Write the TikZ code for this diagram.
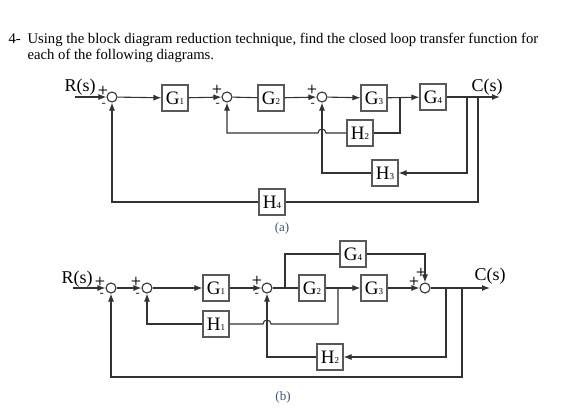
\documentclass[tikz,border=0pt]{standalone}
\usepackage{fontspec}
\setmainfont{Liberation Serif}
\usetikzlibrary{arrows.meta}
\definecolor{capblue}{RGB}{60,85,120}
\newcommand{\blk}[2]{#1{\fontsize{9}{9}\selectfont #2}}

\begin{document}
\begin{tikzpicture}[x=1pt,y=1pt,line width=1.1pt]
\tikzstyle{every node}+=[inner sep=0pt]
\tikzstyle{box}=[draw=black!65,fill=white,minimum size=26pt,font=\fontsize{19}{19}\selectfont]
\tikzstyle{sum}=[draw=black!80,circle,minimum size=10pt]
\tikzstyle{sgn}=[font=\sffamily\bfseries\fontsize{12}{12}\selectfont]
\tikzstyle{arr}=[-{Latex[length=8pt,width=6pt]}]
\tikzstyle{sig}=[anchor=base,font=\fontsize{18}{18}\selectfont]
\useasboundingbox (0,0) rectangle (580,-415);
% question
\node[anchor=base west,font=\fontsize{14.7}{16}\selectfont] (num) at (8,-43) {4-};
\node[anchor=base west,font=\fontsize{14.7}{16}\selectfont] (q1) at (27,-43) {Using the block diagram reduction technique, find the closed loop transfer function for};
\node[anchor=base west,font=\fontsize{14.7}{16}\selectfont] (q2) at (27,-59) {each of the following diagrams.};
% diagram (a)
\node[sig] (ra) at (80,-91) {R(s)};
\node[sig] (ca) at (487,-91) {C(s)};
\node[sum] (sa1) at (112,-97) {};
\node[sum] (sa2) at (227,-97) {};
\node[sum] (sa3) at (322,-97) {};
\node[box] (ga1) at (175,-98) {\blk{G}{1}};
\node[box] (ga2) at (271,-98) {\blk{G}{2}};
\node[box] (ga3) at (374,-98) {\blk{G}{3}};
\node[box] (ga4) at (433,-97) {\blk{G}{4}};
\node[box] (ha2) at (360,-133) {\blk{H}{2}};
\node[box] (ha3) at (385,-173) {\blk{H}{3}};
\node[box] (ha4) at (272,-202) {\blk{H}{4}};
\node[sgn] (pa1) at (103,-90) {+};
\node[sgn] (ma1) at (104,-105) {-};
\node[sgn] (pa2) at (217,-89) {+};
\node[sgn] (ma2) at (218,-105) {-};
\node[sgn] (pa3) at (312,-89) {+};
\node[sgn] (ma3) at (313,-105) {-};
\coordinate (ina) at (75,-97);
\coordinate (outa) at (500,-97);
\coordinate (ba1) at (400,-97);
\coordinate (ba2) at (467,-97);
\coordinate (ba3) at (478,-97);
\coordinate (ba4) at (478,-202);
\begin{scope}[draw=black!80]
\draw[arr] (ina) -- (sa1);
\draw[arr] (sa1) -- (ga1);
\draw[arr] (ga1) -- (sa2);
\draw (sa2) -- (ga2);
\draw[arr] (ga2) -- (sa3);
\draw[arr] (sa3) -- (ga3);
\draw[arr] (ga3) -- (ga4);
\draw[arr] (ga4) -- (outa);
\draw (ba1) |- (ha2);
\draw[arr] (ha2) -- ([xshift=4pt]sa3 |- ha2) arc (0:180:4) -- (sa2 |- ha2) -- (sa2);
\draw[arr] (ba2) |- (ha3);
\draw[arr] (ha3) -| (sa3);
\draw (ba3) -- (ba4) -- (ha4);
\draw[arr] (ha4) -| (sa1);
\end{scope}
\node[text=capblue,font=\fontsize{13}{13}\selectfont] (capa) at (282,-228) {(a)};
% diagram (b)
\node[sig] (rb) at (77,-283) {R(s)};
\node[sig] (cb) at (490,-280) {C(s)};
\node[sum] (sb1) at (111,-288) {};
\node[sum] (sb2) at (147,-288) {};
\node[sum] (sb3) at (267,-288) {};
\node[sum] (sb4) at (425,-288) {};
\node[box] (gb1) at (216,-288) {\blk{G}{1}};
\node[box] (gb2) at (312,-288) {\blk{G}{2}};
\node[box] (gb3) at (374,-288) {\blk{G}{3}};
\node[box] (gb4) at (353,-254) {\blk{G}{4}};
\node[box] (hb1) at (216,-324) {\blk{H}{1}};
\node[box] (hb2) at (330,-357) {\blk{H}{2}};
\node[sgn] (pb1) at (100,-281) {+};
\node[sgn] (mb1) at (102,-295) {-};
\node[sgn] (pb2) at (136,-281) {+};
\node[sgn] (mb2) at (138,-295) {-};
\node[sgn] (pb3) at (257,-280) {+};
\node[sgn] (mb3) at (257,-295) {-};
\node[sgn] (pb4) at (414,-281) {+};
\node[sgn] (qb4) at (421,-272) {+};
\coordinate (inb) at (73,-288);
\coordinate (outb) at (490,-288);
\coordinate (bb1) at (285,-288);
\coordinate (bb2) at (338,-288);
\coordinate (bb3) at (446,-288);
\coordinate (bb4) at (462,-288);
\coordinate (bb5) at (462,-377);
\begin{scope}[draw=black!80]
\draw[arr] (inb) -- (sb1);
\draw[arr] (sb1) -- (sb2);
\draw[arr] (sb2) -- (gb1);
\draw[arr] (gb1) -- (sb3);
\draw (sb3) -- (gb2);
\draw[arr] (gb2) -- (gb3);
\draw[arr] (gb3) -- (sb4);
\draw[arr] (sb4) -- (outb);
\draw (bb1) |- (gb4);
\draw[arr] (gb4) -| (sb4);
\draw (bb2) |- ([xshift=4pt]sb3 |- hb1) arc (0:180:4) -- (hb1);
\draw[arr] (hb1) -| (sb2);
\draw[arr] (bb3) |- (hb2);
\draw[arr] (hb2) -| (sb3);
\draw[arr] (bb4) -- (bb5) -| (sb1);
\end{scope}
\node[text=capblue,font=\fontsize{13}{13}\selectfont] (capb) at (283,-397) {(b)};
\end{tikzpicture}
\end{document}
